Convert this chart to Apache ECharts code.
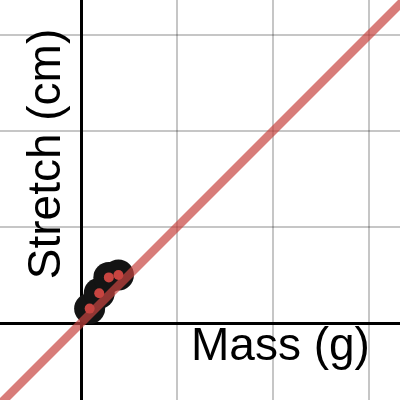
<!DOCTYPE html>
<html>
<head>
<meta charset="utf-8">
<script src="https://cdn.jsdelivr.net/npm/echarts@6/dist/echarts.min.js"></script>
<style>
  html, body { margin: 0; padding: 0; background: #fff; }
  #chart { width: 400px; height: 400px; }
</style>
</head>
<body>
<div id="chart"></div>
<script>
// Measured data (mass in g, stretch in cm)
const mass = [9, 19, 29, 39];
const stretch = [1.5, 3.1, 4.75, 5.0];
// Fitted line through origin: stretch = 0.1 * mass
const fitMass = [-100, 400];
const fitStretch = [-10, 40];

const chart = echarts.init(document.getElementById("chart"));

const points = mass.map((m, i) => [m, stretch[i]]);
const fitLine = fitMass.map((m, i) => [m, fitStretch[i]]);

// grid extends past the canvas so that ticks fall at multiples of the interval
const option = {
    animation: false,
    grid: {
        left: -15, top: -61, width: 480, height: 480,
        containLabel: false, outerBoundsMode: "none"
    },
    xAxis: {
        type: "value", min: -100, max: 400, interval: 100,
        axisLine: { onZero: true, lineStyle: { color: "#000", width: 3 } },
        axisTick: { show: false },
        axisLabel: { show: false },
        splitLine: { lineStyle: { color: "rgba(0,0,0,0.3)", width: 1.5 } }
    },
    yAxis: {
        type: "value", min: -10, max: 40, interval: 10,
        axisLine: { onZero: true, lineStyle: { color: "#000", width: 3 } },
        axisTick: { show: false },
        axisLabel: { show: false },
        splitLine: { lineStyle: { color: "rgba(0,0,0,0.3)", width: 1.5 } }
    },
    series: [
        {
            type: "scatter",
            data: points,
            symbolSize: 31,
            itemStyle: { color: "#141414", opacity: 1 },
            z: 2
        },
        {
            type: "line",
            data: fitLine,
            showSymbol: false,
            lineStyle: { color: "rgba(199,68,64,0.7)", width: 8.5 },
            z: 3
        },
        {
            type: "scatter",
            data: points,
            symbolSize: 10,
            itemStyle: { color: "#c74440", opacity: 1 },
            z: 4
        }
    ],
    graphic: [
        {
            type: "text",
            x: 191, y: 347,
            style: {
                text: "Mass (g)",
                font: "46px 'Liberation Sans', Arial, sans-serif",
                fill: "#000",
                textAlign: "left",
                textVerticalAlign: "middle"
            },
            z: 10
        },
        {
            type: "text",
            x: 47, y: 154,
            rotation: Math.PI / 2,
            style: {
                text: "Stretch (cm)",
                font: "46px 'Liberation Sans', Arial, sans-serif",
                fill: "#000",
                textAlign: "center",
                textVerticalAlign: "middle"
            },
            z: 10
        }
    ]
};

chart.setOption(option);
</script>
</body>
</html>
